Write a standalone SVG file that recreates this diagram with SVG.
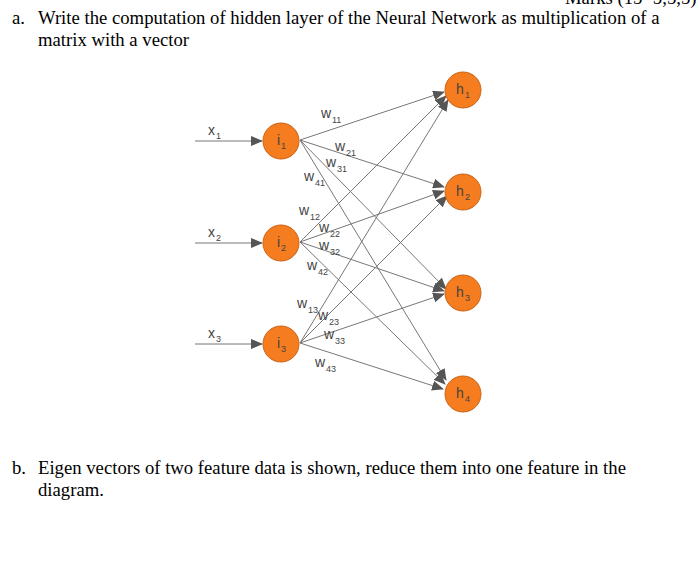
<svg xmlns="http://www.w3.org/2000/svg" width="700" height="583" viewBox="0 0 700 583">
<style>
.q{font-family:"Liberation Serif",serif;font-size:18.7px;fill:#000}
.n{fill:#f57c1f;stroke:#c8641a;stroke-width:1}
.t{font-family:"Liberation Sans",Arial,sans-serif;font-size:14px;fill:#444}
.s{font-family:"Liberation Sans",Arial,sans-serif;font-size:9px;fill:#444}
.e{stroke:#777;stroke-width:1;fill:none;marker-end:url(#a)}
</style>
<defs><marker id="a" markerWidth="12" markerHeight="10" refX="11" refY="5" orient="auto" markerUnits="userSpaceOnUse"><path d="M0,0L12,5L0,10z" fill="#555"/></marker></defs>
<rect width="700" height="583" fill="#fff"/>
<text class="q" x="565" y="4">Marks (15=5,5,5)</text>
<text class="q" x="12" y="24">a.</text>
<text class="q" x="38" y="24">Write the computation of hidden layer of the Neural Network as multiplication of a</text>
<text class="q" x="38" y="46">matrix with a vector</text>
<text class="q" x="12" y="474">b.</text>
<text class="q" x="38" y="474">Eigen vectors of two feature data is shown, reduce them into one feature in the</text>
<text class="q" x="38" y="496">diagram.</text>
<g id="connectors">
<line class="e" x1="195" y1="141" x2="262" y2="141"/>
<line class="e" x1="195" y1="243" x2="262" y2="243"/>
<line class="e" x1="195" y1="344" x2="262" y2="344"/>
<line class="e" x1="300" y1="140" x2="444" y2="92"/>
<line class="e" x1="300" y1="140" x2="444" y2="187"/>
<line class="e" x1="300" y1="140" x2="446" y2="289"/>
<line class="e" x1="300" y1="140" x2="446" y2="380"/>
<line class="e" x1="300" y1="242" x2="446" y2="96"/>
<line class="e" x1="300" y1="242" x2="444" y2="191"/>
<line class="e" x1="300" y1="242" x2="444" y2="291"/>
<line class="e" x1="300" y1="242" x2="445" y2="384"/>
<line class="e" x1="300" y1="343" x2="448" y2="100"/>
<line class="e" x1="300" y1="343" x2="447" y2="196"/>
<line class="e" x1="300" y1="343" x2="444" y2="294"/>
<line class="e" x1="300" y1="343" x2="443" y2="389"/>
</g>
<g id="x-labels">
<text class="t" x="208" y="135">x</text><text class="s" x="216" y="139">1</text>
<text class="t" x="208" y="237">x</text><text class="s" x="216" y="241">2</text>
<text class="t" x="208" y="338">x</text><text class="s" x="216" y="342">3</text>
</g>
<g id="weights">
<text class="t" x="321" y="118">w</text><text class="s" x="332" y="123">11</text>
<text class="t" x="335" y="151">w</text><text class="s" x="346" y="156">21</text>
<text class="t" x="326" y="167">w</text><text class="s" x="337" y="172">31</text>
<text class="t" x="304" y="181">w</text><text class="s" x="315" y="186">41</text>
<text class="t" x="299" y="215">w</text><text class="s" x="310" y="220">12</text>
<text class="t" x="319" y="232">w</text><text class="s" x="330" y="237">22</text>
<text class="t" x="319" y="250">w</text><text class="s" x="330" y="255">32</text>
<text class="t" x="307" y="270">w</text><text class="s" x="318" y="275">42</text>
<text class="t" x="297" y="308">w</text><text class="s" x="308" y="313">13</text>
<text class="t" x="318" y="320">w</text><text class="s" x="329" y="325">23</text>
<text class="t" x="324" y="339">w</text><text class="s" x="335" y="344">33</text>
<text class="t" x="315" y="367">w</text><text class="s" x="326" y="372">43</text>
</g>
<g id="i1"><circle class="n" cx="281" cy="141" r="18"/><text class="t" x="277" y="145">i</text><text class="s" x="281" y="149">1</text></g>
<g id="i2"><circle class="n" cx="281" cy="243" r="18"/><text class="t" x="277" y="247">i</text><text class="s" x="281" y="251">2</text></g>
<g id="i3"><circle class="n" cx="281" cy="344" r="18"/><text class="t" x="277" y="348">i</text><text class="s" x="281" y="352">3</text></g>
<g id="h1"><circle class="n" cx="463" cy="90" r="18"/><text class="t" x="456" y="94">h</text><text class="s" x="465" y="98">1</text></g>
<g id="h2"><circle class="n" cx="463" cy="192" r="18"/><text class="t" x="456" y="196">h</text><text class="s" x="465" y="200">2</text></g>
<g id="h3"><circle class="n" cx="463" cy="293" r="18"/><text class="t" x="456" y="297">h</text><text class="s" x="465" y="301">3</text></g>
<g id="h4"><circle class="n" cx="463" cy="394" r="18"/><text class="t" x="456" y="398">h</text><text class="s" x="465" y="402">4</text></g>
</svg>
